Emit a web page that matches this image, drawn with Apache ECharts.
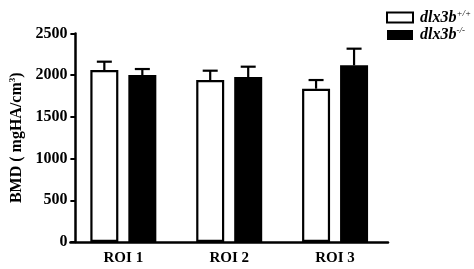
<!DOCTYPE html>
<html><head><meta charset="utf-8">
<script src="https://cdn.jsdelivr.net/npm/echarts@6/dist/echarts.min.js"></script>
<style>html,body{margin:0;padding:0;background:#fff}#c{width:474px;height:269px}</style>
</head><body><div id="c"></div>
<script>
var categories = ['ROI 1', 'ROI 2', 'ROI 3'];
var wtMean = [2062, 1942, 1838];
var wtErr = [100, 112, 104];
var koMean = [2002, 1978, 2118];
var koErr = [72, 124, 200];
var yTicks = [0, 500, 1000, 1500, 2000, 2500];

var FONT = '"Liberation Serif", "Times New Roman", serif';
var BAR_W = 28, GAP = 10;

function errSeries(name, means, errs, dir) {
  return {
    type: 'custom', name: name + '_err', z: 5, silent: true,
    data: means.map(function (m, i) { return [i, m, m + errs[i]]; }),
    renderItem: function (params, api) {
      var off = dir * (BAR_W / 2 + GAP / 2);
      var p0 = api.coord([api.value(0), api.value(1)]);
      var p1 = api.coord([api.value(0), api.value(2)]);
      var x = p0[0] + off;
      var cap = 7.5;
      var st = { stroke: '#000', lineWidth: 2.2 };
      return { type: 'group', children: [
        { type: 'line', shape: { x1: x, y1: p0[1], x2: x, y2: p1[1] }, style: st },
        { type: 'line', shape: { x1: x - cap, y1: p1[1], x2: x + cap, y2: p1[1] }, style: st }
      ]};
    }
  };
}

var chart = echarts.init(document.getElementById('c'));
chart.setOption({
  animation: false,
  backgroundColor: '#fff',
  grid: { left: 66, right: 86, top: 33.5, bottom: 27 },
  legend: {
    orient: 'vertical', left: 381, top: 4, itemWidth: 26, itemHeight: 10, itemGap: 1,
    icon: 'rect',
    data: ['wt', 'ko'],
    formatter: function (n) { return n === 'wt' ? '{a|dlx3b}{s|+/+}' : '{a|dlx3b}{s|-/-}'; },
    textStyle: {
      padding: [0, 0, 0, 2],
      rich: {
        a: { fontFamily: FONT, fontStyle: 'italic', fontWeight: 'bold', fontSize: 16, color: '#000' },
        s: { fontFamily: FONT, fontStyle: 'italic', fontSize: 9, color: '#000', verticalAlign: 'top', padding: [0, 0, 8, 0] }
      }
    }
  },
  xAxis: {
    type: 'category', data: categories,
    axisLine: { lineStyle: { color: '#000', width: 2.5 } },
    axisTick: { alignWithLabel: true, length: 5, lineStyle: { color: '#000', width: 2 } },
    axisLabel: { fontFamily: FONT, fontWeight: 'bold', fontSize: 15, color: '#000', margin: 9 }
  },
  yAxis: {
    type: 'value', min: 0, max: 2500, interval: 500, offset: -5,
    name: '{n|BMD ( mgHA/cm}{s|3}{n|)}', nameLocation: 'middle', nameGap: 41, nameRotate: 90,
    nameTextStyle: {
      rich: {
        n: { fontFamily: FONT, fontWeight: 'bold', fontSize: 16, color: '#000' },
        s: { fontFamily: FONT, fontWeight: 'bold', fontSize: 9, color: '#000', verticalAlign: 'top', padding: [0, 0, 8, 0] }
      }
    },
    splitLine: { show: false },
    axisLine: { show: true, lineStyle: { color: '#000', width: 2.5 } },
    axisTick: { show: true, length: 5, lineStyle: { color: '#000', width: 2 } },
    axisLabel: { fontFamily: FONT, fontWeight: 'bold', fontSize: 16, color: '#000', margin: 8,
      formatter: function (v) { return yTicks.indexOf(v) >= 0 ? String(v) : ''; } }
  },
  series: [
    { name: 'wt', type: 'bar', data: wtMean, barWidth: BAR_W, barGap: (GAP / BAR_W * 100) + '%',
      itemStyle: { color: '#fff', borderColor: '#000', borderWidth: 2.2 } },
    { name: 'ko', type: 'bar', data: koMean, barWidth: BAR_W,
      itemStyle: { color: '#000', borderColor: '#000', borderWidth: 0 } },
    errSeries('wt', wtMean, wtErr, -1),
    errSeries('ko', koMean, koErr, 1)
  ]
});
</script></body></html>
